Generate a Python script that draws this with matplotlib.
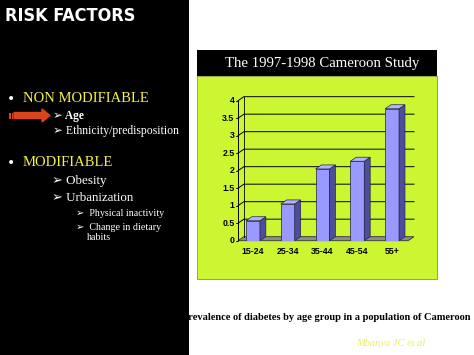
import matplotlib
matplotlib.use('Agg')
import matplotlib.pyplot as plt
from matplotlib.patches import Rectangle, Polygon, FancyArrow

# Datos del grafico
age_groups = ['15-24', '25-34', '35-44', '45-54', '55+']
prevalence = [0.57, 1.05, 2.05, 2.27, 3.77]
y_ticks = [0, 0.5, 1, 1.5, 2, 2.5, 3, 3.5, 4]
y_tick_labels = ['0', '0.5', '1', '1.5', '2', '2.5', '3', '3.5', '4']

chart_title = 'The 1997-1998 Cameroon Study'
caption = 'Prevalence of diabetes by age group in a population of Cameroon'
source = 'Mbanya JC et al'

W, H = 474, 355
fig = plt.figure(figsize=(W / 100, H / 100), dpi=100)
fig.patch.set_facecolor('white')

# Capa de fondo en coordenadas de pixel
bg = fig.add_axes([0, 0, 1, 1])
bg.set_xlim(0, W)
bg.set_ylim(H, 0)
bg.axis('off')

# Texto de pie (queda parcialmente tapado por el panel negro)
bg.text(471, 318, caption, ha='right', va='center', fontsize=7.5,
        fontweight='bold', family='Liberation Serif', color='black', zorder=1)
bg.text(391, 344, source, ha='center', va='center', fontsize=7.5,
        style='italic', family='Liberation Serif', color='#eeee55', zorder=1)

# Panel negro izquierdo
bg.add_patch(Rectangle((0, 0), 189, H, facecolor='black', edgecolor='none', zorder=2))

bg.text(5, 16, 'RISK FACTORS', ha='left', va='center', fontsize=13,
        fontweight='bold', family='DejaVu Sans', fontstretch='condensed',
        color='white', zorder=3)

yellow = '#f2f24a'
serif = ['Liberation Serif', 'DejaVu Sans']
bg.text(7, 99, '•', ha='left', va='center', fontsize=10, color='white', zorder=3)
bg.text(23, 99, 'NON MODIFIABLE', ha='left', va='center', fontsize=10.5,
        family=serif, color=yellow, zorder=3)
bg.text(7, 163, '•', ha='left', va='center', fontsize=10, color='white', zorder=3)
bg.text(23, 163, 'MODIFIABLE', ha='left', va='center', fontsize=10.5,
        family=serif, color=yellow, zorder=3)

# Flecha roja hacia "Age"
bg.add_patch(FancyArrow(14, 115.5, 28, 0, width=6, head_width=13, head_length=8,
                        length_includes_head=False, color='#d8441c', zorder=3))
bg.add_patch(Rectangle((9, 112.5), 2, 6, facecolor='#d8441c', edgecolor='none', zorder=3))
bg.add_patch(Rectangle((12, 112.5), 1.2, 6, facecolor='#d8441c', edgecolor='none', zorder=3))

items = [
    (53, 116, '➢ ', 'Age', 8.3, 'bold'),
    (53, 131, '➢ ', 'Ethnicity/predisposition', 8.5, 'normal'),
    (52, 181, '➢ ', 'Obesity', 9.4, 'normal'),
    (52, 198, '➢ ', 'Urbanization', 9.4, 'normal'),
    (76, 213, '➢  ', 'Physical inactivity', 7.2, 'normal'),
    (76, 227, '➢  ', 'Change in dietary', 7.2, 'normal'),
]
for x, y, arrow, label, fs, fw in items:
    bg.text(x, y, arrow + label, ha='left', va='center', fontsize=fs, fontweight=fw,
            family=serif, color='white', zorder=3)
bg.text(87, 238, 'habits', ha='left', va='center', fontsize=7.2,
        family=serif, color='white', zorder=3)

# Caja del grafico
bg.add_patch(Rectangle((197, 50), 240, 26, facecolor='black', edgecolor='none', zorder=2))
bg.add_patch(Rectangle((197, 76), 240, 203, facecolor='#ccf532', edgecolor='#8a9a30',
                       linewidth=0.6, zorder=2))
bg.text(322, 63, chart_title, ha='center', va='center', fontsize=10.6,
        family='Liberation Serif', color='white', zorder=3)

# Ejes del grafico de barras (pseudo 3D)
x_min, x_max = -0.43, 4.46
dx, dy = 0.17, 0.115
ax = fig.add_axes([238 / W, (H - 240.7) / H, 176 / W, 147 / H])
ax.set_xlim(x_min, x_max + dx)
ax.set_ylim(0, 4.2)
ax.axis('off')
ax.set_zorder(5)

# Suelo gris
ax.add_patch(Polygon([(x_min, 0), (x_max, 0), (x_max + dx, dy), (x_min + dx, dy)],
                     closed=True, facecolor='#8c8c8c', edgecolor='#333333', linewidth=0.6,
                     clip_on=False))

# Lineas de rejilla en la pared trasera y ejes
for v in y_ticks[1:]:
    ax.plot([x_min, x_min + dx, x_max + dx], [v, v + dy, v + dy],
            color='black', linewidth=0.7, clip_on=False)
ax.plot([x_min, x_min], [0, 4], color='black', linewidth=0.7)
ax.plot([x_min + dx, x_min + dx], [dy, 4 + dy], color='black', linewidth=0.6)

for v, lab in zip(y_ticks, y_tick_labels):
    ax.plot([x_min - 0.06, x_min], [v, v], color='black', linewidth=0.6, clip_on=False)
    ax.text(x_min - 0.1, v, lab, ha='right', va='center', fontsize=6.3,
            fontweight='bold', family='Liberation Sans', clip_on=False)

# Barras
xs = list(range(len(age_groups)))
bw = 0.40
ax.bar(xs, prevalence, width=bw, color='#9999ff', edgecolor='#222244', linewidth=0.5, zorder=3)
for x, v in zip(xs, prevalence):
    r = x + bw / 2
    l = x - bw / 2
    ax.add_patch(Polygon([(r, 0), (r + dx, dy), (r + dx, v + dy), (r, v)], closed=True,
                         facecolor='#4d4d99', edgecolor='#222244', linewidth=0.5, zorder=3))
    ax.add_patch(Polygon([(l, v), (l + dx, v + dy), (r + dx, v + dy), (r, v)], closed=True,
                         facecolor='#b3b3ff', edgecolor='#222244', linewidth=0.5, zorder=3))
    ax.text(x, -0.3, age_groups[x], ha='center', va='center', fontsize=6.3,
            fontweight='bold', family='Liberation Sans', clip_on=False)

fig.savefig('out.png', dpi=100)
